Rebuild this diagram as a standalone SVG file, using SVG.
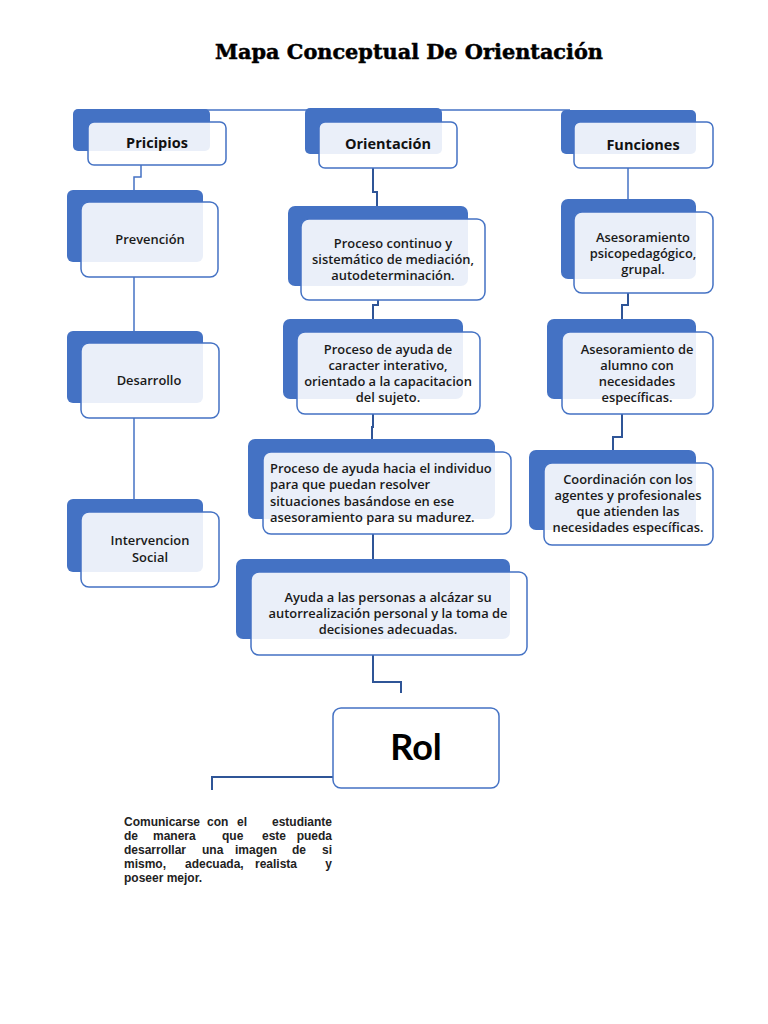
<svg xmlns="http://www.w3.org/2000/svg" width="768" height="1024" viewBox="0 0 768 1024">
<style>
.bg{fill:#ffffff}
.dk{fill:#4472c4}
.lt{fill:#ffffff;fill-opacity:0.89;stroke:#4472c4;stroke-width:1.5}
.c1{fill:none;stroke:#4472c4;stroke-width:1.5}
.c2{fill:none;stroke:#2f5597;stroke-width:2}
.t{font-family:"Open Sans","Liberation Sans",sans-serif;font-size:12.9px;font-weight:600;fill:#1a1a1a;text-anchor:middle}
.tl{text-anchor:start}
.h{font-family:"Open Sans","Liberation Sans",sans-serif;font-size:14.5px;font-weight:bold;fill:#111;text-anchor:middle}
.title{font-family:"DejaVu Serif","Liberation Serif",serif;font-size:21px;font-weight:bold;fill:#000;stroke:#000;stroke-width:0.5}
.rol{font-family:Lato,"Liberation Sans",sans-serif;font-size:36px;font-weight:bold;fill:#000;text-anchor:middle}
.body{font-family:"Liberation Sans",Arial,sans-serif;font-size:12px;font-weight:bold;fill:#222}
.e{text-anchor:end}
</style>
<rect class="bg" x="0" y="0" width="768" height="1024"/>
<text class="title" x="215" y="59" textLength="388" lengthAdjust="spacingAndGlyphs">Mapa Conceptual De Orientación</text>

<g id="connectors">
<path class="c1" d="M200 110 H570"/>
<path class="c1" d="M141 165 V177 H134 V190"/>
<path class="c1" d="M134 277 V331"/>
<path class="c1" d="M134 418 V499"/>
<path class="c2" d="M373 168 V192 H377 V206"/>
<path class="c2" d="M378 300 V305 H373 V319"/>
<path class="c2" d="M373 414 V427 H372 V439"/>
<path class="c2" d="M373 534 V559"/>
<path class="c2" d="M373 655 V682 H401 V693"/>
<path class="c1" d="M628 168 V199"/>
<path class="c2" d="M628 293 V305 H622 V319"/>
<path class="c2" d="M622 414 V437 H613 V450"/>
<path class="c2" d="M333 777 H212 V790"/>
</g>

<g id="n-pricipios">
<rect class="dk" x="73" y="109" width="137" height="42" rx="5"/>
<rect class="lt" x="88" y="122" width="138" height="43" rx="6"/>
<text class="h" x="157" y="148">Pricipios</text>
</g>
<g id="n-orientacion">
<rect class="dk" x="305" y="108" width="137" height="46" rx="5"/>
<rect class="lt" x="319" y="122" width="138" height="46" rx="6"/>
<text class="h" x="388" y="149">Orientación</text>
</g>
<g id="n-funciones">
<rect class="dk" x="561" y="110" width="135" height="44" rx="5"/>
<rect class="lt" x="574" y="122" width="139" height="46" rx="6"/>
<text class="h" x="643" y="150">Funciones</text>
</g>

<g id="n-prevencion">
<rect class="dk" x="67" y="190" width="136" height="72" rx="6"/>
<rect class="lt" x="81" y="202" width="137" height="75" rx="8"/>
<text class="t" x="150" y="244">Prevención</text>
</g>
<g id="n-desarrollo">
<rect class="dk" x="67" y="331" width="136" height="72" rx="6"/>
<rect class="lt" x="81" y="343" width="138" height="75" rx="8"/>
<text class="t" x="149" y="385">Desarrollo</text>
</g>
<g id="n-intervencion">
<rect class="dk" x="67" y="499" width="136" height="73" rx="6"/>
<rect class="lt" x="81" y="512" width="138" height="75" rx="8"/>
<text class="t" x="150" y="545">Intervencion</text>
<text class="t" x="150" y="562">Social</text>
</g>

<g id="n-proceso1">
<rect class="dk" x="288" y="206" width="180" height="80" rx="7"/>
<rect class="lt" x="301" y="219" width="184" height="81" rx="8"/>
<text class="t" x="393" y="248">Proceso continuo y</text>
<text class="t" x="393" y="264">sistemático de mediación,</text>
<text class="t" x="393" y="280">autodeterminación.</text>
</g>
<g id="n-proceso2">
<rect class="dk" x="283" y="319" width="180" height="80" rx="7"/>
<rect class="lt" x="297" y="332" width="183" height="82" rx="8"/>
<text class="t" x="388" y="354">Proceso de ayuda de</text>
<text class="t" x="388" y="370">caracter interativo,</text>
<text class="t" x="388" y="386">orientado a la capacitacion</text>
<text class="t" x="388" y="402">del sujeto.</text>
</g>
<g id="n-proceso3">
<rect class="dk" x="248" y="439" width="247" height="80" rx="7"/>
<rect class="lt" x="263" y="452" width="248" height="82" rx="8"/>
<text class="t tl" x="270" y="473">Proceso de ayuda hacia el individuo</text>
<text class="t tl" x="270" y="489">para que puedan resolver</text>
<text class="t tl" x="270" y="506">situaciones basándose en ese</text>
<text class="t tl" x="270" y="522">asesoramiento para su madurez.</text>
</g>
<g id="n-ayuda">
<rect class="dk" x="236" y="559" width="274" height="80" rx="7"/>
<rect class="lt" x="251" y="572" width="276" height="83" rx="8"/>
<text class="t" x="388" y="602">Ayuda a las personas a alcázar su</text>
<text class="t" x="388" y="618">autorrealización personal y la toma de</text>
<text class="t" x="388" y="634">decisiones adecuadas.</text>
</g>

<g id="n-asesor1">
<rect class="dk" x="561" y="199" width="135" height="80" rx="7"/>
<rect class="lt" x="574" y="212" width="139" height="81" rx="8"/>
<text class="t" x="643" y="242">Asesoramiento</text>
<text class="t" x="643" y="258">psicopedagógico,</text>
<text class="t" x="643" y="274">grupal.</text>
</g>
<g id="n-asesor2">
<rect class="dk" x="547" y="319" width="149" height="80" rx="7"/>
<rect class="lt" x="562" y="332" width="151" height="82" rx="8"/>
<text class="t" x="637" y="354">Asesoramiento de</text>
<text class="t" x="637" y="370">alumno con</text>
<text class="t" x="637" y="386">necesidades</text>
<text class="t" x="637" y="402">específicas.</text>
</g>
<g id="n-coordinacion">
<rect class="dk" x="529" y="450" width="167" height="80" rx="7"/>
<rect class="lt" x="544" y="463" width="169" height="82" rx="8"/>
<text class="t" x="628" y="484">Coordinación con los</text>
<text class="t" x="628" y="500">agentes y profesionales</text>
<text class="t" x="628" y="516">que atienden las</text>
<text class="t" x="628" y="532">necesidades específicas.</text>
</g>

<g id="n-rol">
<rect class="lt" x="333" y="708" width="166" height="80" rx="8" style="fill-opacity:1"/>
<text class="rol" x="416" y="760">Rol</text>
</g>

<g id="n-texto">
<text class="body" x="124" y="826">Comunicarse</text>
<text class="body" x="207" y="826">con</text>
<text class="body" x="237" y="826">el</text>
<text class="body e" x="332" y="826">estudiante</text>
<text class="body" x="124" y="840">de</text>
<text class="body" x="153" y="840">manera</text>
<text class="body" x="222" y="840">que</text>
<text class="body" x="262" y="840">este</text>
<text class="body e" x="332" y="840">pueda</text>
<text class="body" x="124" y="854">desarrollar</text>
<text class="body" x="202" y="854">una</text>
<text class="body" x="235" y="854">imagen</text>
<text class="body" x="292" y="854">de</text>
<text class="body e" x="332" y="854">si</text>
<text class="body" x="124" y="868">mismo,</text>
<text class="body" x="185" y="868">adecuada,</text>
<text class="body" x="255" y="868">realista</text>
<text class="body e" x="332" y="868">y</text>
<text class="body" x="124" y="882">poseer mejor.</text>
</g>
</svg>
